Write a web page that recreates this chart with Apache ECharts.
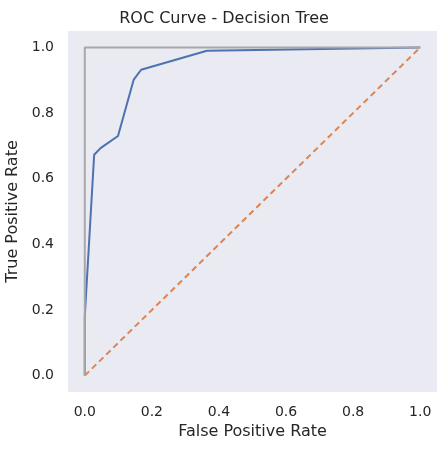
<!DOCTYPE html>
<html>
<head>
<meta charset="utf-8">
<script src="https://cdn.jsdelivr.net/npm/echarts@6/dist/echarts.min.js"></script>
<style>
  html, body { margin: 0; padding: 0; background: #fff; }
  #chart { width: 448px; height: 450px; }
</style>
</head>
<body>
<div id="chart"></div>
<script>
// ROC points
var fpr = [0, 0, 0.028, 0.047, 0.099, 0.146, 0.168, 0.364, 1.0];
var tpr = [0, 0.18, 0.673, 0.693, 0.73, 0.902, 0.932, 0.99, 1.0];
var chanceX = [0, 1];
var chanceY = [0, 1];
var perfectX = [0, 0, 1];
var perfectY = [0, 1, 1];
var tickValues = [0, 0.2, 0.4, 0.6, 0.8, 1.0];

function pairs(xs, ys) {
    return xs.map(function (x, i) { return [x, ys[i]]; });
}

var textColor = '#262626';
var fontFamily = 'DejaVu Sans';

function axis(name, gap, labelMargin) {
    return {
        type: 'value',
        min: -0.05,
        max: 1.05,
        name: name,
        nameLocation: 'middle',
        nameGap: gap,
        nameTextStyle: { color: textColor, fontSize: 16, fontFamily: fontFamily },
        axisLine: { show: false },
        axisTick: { show: false, customValues: tickValues },
        splitLine: { show: false },
        axisLabel: {
            customValues: tickValues,
            color: textColor,
            fontSize: 14,
            fontFamily: fontFamily,
            margin: labelMargin,
            formatter: function (v) { return v.toFixed(1); }
        }
    };
}

var myChart = echarts.init(document.getElementById('chart'));
var option = {
    animation: false,
    backgroundColor: '#ffffff',
    title: {
        text: 'ROC Curve - Decision Tree',
        left: 'center',
        top: 6,
        textStyle: { color: textColor, fontSize: 16, fontWeight: 'normal', fontFamily: fontFamily }
    },
    grid: {
        left: 68,
        right: 11,
        top: 31,
        bottom: 58,
        containLabel: false,
        outerBoundsMode: 'none',
        show: true,
        backgroundColor: '#EAEAF2',
        borderWidth: 0
    },
    xAxis: axis('False Positive Rate', 31, 13),
    yAxis: axis('True Positive Rate', 40, 14),
    series: [
        {
            type: 'line',
            data: pairs(fpr, tpr),
            showSymbol: false,
            lineStyle: { color: '#4C72B0', width: 2 },
            z: 2
        },
        {
            type: 'line',
            data: pairs(chanceX, chanceY),
            showSymbol: false,
            lineStyle: { color: '#DD8452', width: 2, type: [6, 4] },
            z: 3
        },
        {
            type: 'line',
            data: pairs(perfectX, perfectY),
            showSymbol: false,
            lineStyle: { color: '#A8A8A8', width: 2 },
            z: 4
        }
    ]
};
myChart.setOption(option);
</script>
</body>
</html>
